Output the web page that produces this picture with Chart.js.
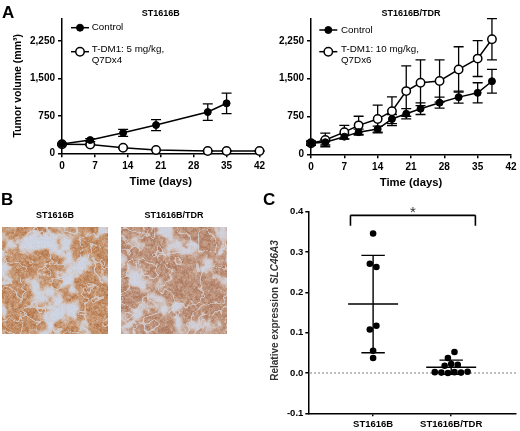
<!DOCTYPE html>
<html>
<head>
<meta charset="utf-8">
<title>ST1616B / ST1616B-TDR</title>
<script src="https://cdn.jsdelivr.net/npm/chart.js@4.4.1/dist/chart.umd.min.js"></script>
<style>
  body { margin: 0; background: #fff; }
  #wrap { position: relative; width: 520px; height: 431px; overflow: hidden; font-family: 'Liberation Sans', Arial, sans-serif; color: #000; }
  #wrap canvas { position: absolute; }
  .letter { position: absolute; font-weight: bold; font-size: 17px; line-height: 17px; }
  .cap { position: absolute; font-weight: bold; font-size: 9px; line-height: 11px; width: 110px; text-align: center; }
</style>
</head>
<body>
<div id="wrap">
  <canvas id="chartA1" width="270" height="195" style="left:0;top:0"></canvas>
  <canvas id="chartA2" width="258" height="195" style="left:262px;top:0"></canvas>
  <canvas id="ihc" width="230" height="110" style="left:0;top:226px"></canvas>
  <canvas id="chartC" width="260" height="236" style="left:260px;top:195px"></canvas>
  <div class="letter" style="left:2px;top:4px">A</div>
  <div class="letter" style="left:1px;top:191px">B</div>
  <div class="letter" style="left:263px;top:191px">C</div>
  <div class="cap" style="left:0;top:210px">ST1616B</div>
  <div class="cap" style="left:119px;top:210px">ST1616B/TDR</div>
</div>
<script>
// ---- data ----
const xTicksA = [0, 7, 14, 21, 28, 35, 42];
const yTicksA = [0, 750, 1500, 2250];

// A left: ST1616B
const daysCtrlB = [0, 6, 13, 20, 31, 35];
const volCtrlB = [185, 265, 410, 565, 825, 1000];
const semCtrlB = [15, 30, 70, 110, 165, 205];
const daysTdmB = [0, 6, 13, 20, 31, 35, 42];
const volTdmB = [180, 175, 112, 66, 45, 45, 45];
const semTdmB = [12, 12, 10, 8, 6, 6, 6];

// A right: ST1616B/TDR
const daysTdr = [0, 3, 7, 10, 14, 17, 20, 23, 27, 31, 35, 38];
const volCtrlTdr = [220, 240, 350, 440, 500, 700, 805, 905, 1025, 1135, 1220, 1450];
const semCtrlTdr = [40, 55, 50, 60, 60, 90, 100, 115, 110, 120, 200, 235];
const volTdmTdr = [220, 285, 440, 575, 700, 855, 1255, 1420, 1455, 1685, 1900, 2285];
const semTdmTdr = [40, 135, 135, 180, 275, 285, 500, 455, 420, 450, 355, 410];

// C: relative expression SLC46A3
const groupsC = ['ST1616B', 'ST1616B/TDR'];
const exprB = [0.346, 0.271, 0.263, 0.108, 0.117, 0.055, 0.037];
const exprTdr = [0.037, 0.052, 0.018, 0.022, 0.020, 0.002, 0.001, 0.000, 0.002, 0.001, 0.003];
const yTicksC = [-0.1, 0, 0.1, 0.2, 0.3, 0.4];

const FONT = "'Liberation Sans', Arial, sans-serif";
Chart.defaults.font.family = FONT;
Chart.defaults.color = '#000';

const pts = (xs, ys) => xs.map((x, i) => ({ x: x, y: ys[i] }));

// error bars (mean +/- SEM) behind the symbols
const errorBars = {
  id: 'errorBars',
  beforeDatasetsDraw(chart) {
    const { ctx, scales: { x, y } } = chart;
    ctx.save();
    ctx.strokeStyle = '#000';
    ctx.lineWidth = 1.3;
    chart.data.datasets.forEach(ds => {
      if (!ds.err) return;
      ds.data.forEach((p, i) => {
        const e = ds.err[i];
        const px = x.getPixelForValue(p.x);
        const y1 = y.getPixelForValue(p.y + e);
        const y2 = y.getPixelForValue(p.y - e);
        ctx.beginPath();
        ctx.moveTo(px, y1); ctx.lineTo(px, y2);
        ctx.moveTo(px - 5, y1); ctx.lineTo(px + 5, y1);
        ctx.moveTo(px - 5, y2); ctx.lineTo(px + 5, y2);
        ctx.stroke();
      });
    });
    ctx.restore();
  }
};

function drawRotated(ctx, parts, x, y, size) {
  ctx.save();
  ctx.translate(x, y);
  ctx.rotate(-Math.PI / 2);
  ctx.textAlign = 'left';
  ctx.textBaseline = 'middle';
  const fonts = parts.map(p => (p.italic ? 'italic ' : '') + 'bold ' + size + 'px ' + FONT);
  let total = 0;
  const w = parts.map((p, i) => {
    ctx.font = fonts[i];
    const m = ctx.measureText(p.text).width;
    total += m;
    return m;
  });
  let pos = -total / 2;
  parts.forEach((p, i) => {
    ctx.font = fonts[i];
    ctx.fillText(p.text, pos, 0);
    pos += w[i];
  });
  ctx.restore();
}

// titles, axis titles and the in-plot legend
const panelText = {
  id: 'panelText',
  afterDraw(chart, args, opts) {
    const { ctx, chartArea: a } = chart;
    const cx = (a.left + a.right) / 2;
    const cy = (a.top + a.bottom) / 2;
    ctx.save();
    ctx.fillStyle = '#000';
    ctx.textAlign = 'center';
    ctx.textBaseline = 'middle';
    if (opts.title) {
      ctx.font = 'bold 9px ' + FONT;
      ctx.fillText(opts.title, cx, a.top - 4.3);
    }
    if (opts.xTitle) {
      ctx.font = 'bold 11.3px ' + FONT;
      ctx.fillText(opts.xTitle, cx, a.bottom + 28.7);
    }
    if (opts.yTitle) drawRotated(ctx, opts.yTitle, opts.yTitleX, cy, opts.yTitleSize);
    (opts.legend || []).forEach((it, i) => {
      const ds = chart.data.datasets[i];
      const mx = a.left + opts.legendDx;
      const my = a.top + it.dy;
      ctx.strokeStyle = '#000';
      ctx.lineWidth = 1.5;
      ctx.beginPath();
      ctx.moveTo(mx - 9, my); ctx.lineTo(mx + 9, my);
      ctx.stroke();
      ctx.beginPath();
      ctx.arc(mx, my, ds.pointRadius, 0, Math.PI * 2);
      ctx.fillStyle = ds.pointBackgroundColor;
      ctx.fill();
      ctx.lineWidth = ds.pointBorderWidth;
      ctx.stroke();
      ctx.fillStyle = '#000';
      ctx.font = '9.8px ' + FONT;
      ctx.textAlign = 'left';
      it.text.forEach((t, k) => ctx.fillText(t, a.left + opts.legendTextDx, my + it.lineDy[k]));
      ctx.textAlign = 'center';
    });
    ctx.restore();
  }
};

function scalesA(yWidth, xHeight) {
  const tickFont = { family: FONT, size: 10, weight: 'bold' };
  return {
    x: {
      type: 'linear', min: 0, max: 42,
      afterBuildTicks: s => { s.ticks = xTicksA.map(v => ({ value: v })); },
      afterFit: s => { s.height = xHeight; },
      grid: { drawOnChartArea: false, color: '#000', lineWidth: 1.5, tickLength: 4 },
      border: { color: '#000', width: 1.5 },
      ticks: { font: tickFont, color: '#000', padding: 3, maxRotation: 0 }
    },
    y: {
      type: 'linear', min: 0, max: 2700,
      afterBuildTicks: s => { s.ticks = yTicksA.map(v => ({ value: v })); },
      afterFit: s => { s.width = yWidth; },
      grid: { drawOnChartArea: false, color: '#000', lineWidth: 1.5, tickLength: 4 },
      border: { color: '#000', width: 1.5 },
      ticks: { font: tickFont, color: '#000', padding: 3, callback: v => v.toLocaleString('en-US') }
    }
  };
}

function ctrlSet(data, err) {
  return {
    data: data, err: err, borderColor: '#000', borderWidth: 1.5, tension: 0,
    pointRadius: 3.5, pointBackgroundColor: '#000', pointBorderColor: '#000', pointBorderWidth: 1,
    clip: false
  };
}
function tdmSet(data, err) {
  return {
    data: data, err: err, borderColor: '#000', borderWidth: 1.5, tension: 0,
    pointRadius: 4.2, pointBackgroundColor: '#fff', pointBorderColor: '#000', pointBorderWidth: 1.5,
    clip: false
  };
}

const baseOpts = { responsive: false, animation: false, events: [] };

new Chart(document.getElementById('chartA1'), {
  type: 'line',
  data: { datasets: [ctrlSet(pts(daysCtrlB, volCtrlB), semCtrlB), tdmSet(pts(daysTdmB, volTdmB), semTdmB)] },
  options: Object.assign({}, baseOpts, {
    layout: { padding: { top: 18.3, right: 10.5, left: 0, bottom: 0 } },
    scales: scalesA(62, 41.7),
    plugins: {
      legend: { display: false }, tooltip: { enabled: false },
      panelText: {
        title: 'ST1616B', xTitle: 'Time (days)',
        yTitle: [{ text: 'Tumor volume (mm³)' }], yTitleX: 18, yTitleSize: 10.5,
        legendDx: 18, legendTextDx: 29.7,
        legend: [
          { text: ['Control'], dy: 9.4, lineDy: [0] },
          { text: ['T-DM1: 5 mg/kg,', 'Q7Dx4'], dy: 33.4, lineDy: [-2.4, 9] }
        ]
      }
    }
  }),
  plugins: [errorBars, panelText]
});

new Chart(document.getElementById('chartA2'), {
  type: 'line',
  data: { datasets: [ctrlSet(pts(daysTdr, volCtrlTdr), semCtrlTdr), tdmSet(pts(daysTdr, volTdmTdr), semTdmTdr)] },
  options: Object.assign({}, baseOpts, {
    layout: { padding: { top: 18.3, right: 9, left: 0, bottom: 0 } },
    scales: scalesA(49, 40.7),
    plugins: {
      legend: { display: false }, tooltip: { enabled: false },
      panelText: {
        title: 'ST1616B/TDR', xTitle: 'Time (days)',
        legendDx: 17.3, legendTextDx: 30,
        legend: [
          { text: ['Control'], dy: 11.7, lineDy: [0] },
          { text: ['T-DM1: 10 mg/kg,', 'Q7Dx6'], dy: 33.4, lineDy: [-2.4, 9] }
        ]
      }
    }
  }),
  plugins: [errorBars, panelText]
});

// ---- panel B: stained sections (procedural texture) ----
function hash(x, y, s) {
  let h = (Math.imul(x, 374761393) + Math.imul(y, 668265263) + Math.imul(s, 1442695041)) | 0;
  h = Math.imul(h ^ (h >>> 13), 1274126177);
  h ^= h >>> 16;
  return (h >>> 0) / 4294967296;
}
function vnoise(x, y, s) {
  const xi = Math.floor(x), yi = Math.floor(y);
  const fx = x - xi, fy = y - yi;
  const u = fx * fx * (3 - 2 * fx), v = fy * fy * (3 - 2 * fy);
  const a = hash(xi, yi, s), b = hash(xi + 1, yi, s), c = hash(xi, yi + 1, s), d = hash(xi + 1, yi + 1, s);
  return a + (b - a) * u + (c - a) * v + (a - b - c + d) * u * v;
}
function fbm(x, y, s) {
  return 0.55 * vnoise(x, y, s) + 0.3 * vnoise(x * 2.1, y * 2.1, s + 7) + 0.15 * vnoise(x * 4.3, y * 4.3, s + 13);
}
function smooth(e0, e1, v) {
  const t = Math.min(1, Math.max(0, (v - e0) / (e1 - e0)));
  return t * t * (3 - 2 * t);
}
function drawTissue(ctx, ox, oy, w, h, seed, pal) {
  const img = ctx.createImageData(w, h);
  for (let j = 0; j < h; j++) {
    for (let i = 0; i < w; i++) {
      const wx = i + 14 * (fbm(i / 28, j / 28, seed + 3) - 0.5);
      const wy = j + 14 * (fbm(i / 28, j / 28, seed + 4) - 0.5);
      const n = fbm(wx / 17, wy / 17, seed);
      const ridge = 1 - Math.abs(fbm(wx / 14, wy / 14, seed + 5) - 0.5) * 2;
      const stained = smooth(pal.cut - 0.2, pal.cut + 0.16, n) * (1 - 0.6 * smooth(0.92, 0.99, ridge));
      const g = fbm(i / 2.5, j / 2.5, seed + 31);
      const s = hash(i, j, seed + 57);
      const inten = Math.min(1, stained * (0.1 + 0.9 * g + 0.3 * s));
      const k = (j * w + i) * 4;
      for (let c = 0; c < 3; c++) {
        const brown = pal.light[c] + (pal.dark[c] - pal.light[c]) * inten;
        const st = pal.stroma[c] - 10 * s;
        img.data[k + c] = st + (brown - st) * smooth(0, 0.8, stained * (0.6 + 0.6 * g));
      }
      img.data[k + 3] = 255;
    }
  }
  ctx.putImageData(img, ox, oy);
}
const ihc = document.getElementById('ihc').getContext('2d');
drawTissue(ihc, 2, 1, 106, 107, 11, { cut: 0.4, stroma: [210, 216, 230], dark: [180, 116, 70], light: [226, 204, 186] });
drawTissue(ihc, 121, 1, 106, 107, 29, { cut: 0.34, stroma: [212, 214, 226], dark: [172, 120, 94], light: [224, 204, 190] });

// ---- panel C ----
const rowTol = 0.016, swarmStep = 0.084;
function swarm(values, center) {
  const idx = values.map((v, i) => i).sort((a, b) => values[b] - values[a]);
  const rows = [];
  idx.forEach(i => {
    const row = rows[rows.length - 1];
    if (row && values[row[0]] - values[i] <= rowTol) row.push(i);
    else rows.push([i]);
  });
  const out = [];
  rows.forEach(row => {
    row.sort((a, b) => a - b);
    row.forEach((i, k) => out.push({ x: center + (k - (row.length - 1) / 2) * swarmStep, y: values[i] }));
  });
  return out;
}
function meanSd(values) {
  const m = values.reduce((s, v) => s + v, 0) / values.length;
  const sd = Math.sqrt(values.reduce((s, v) => s + (v - m) * (v - m), 0) / (values.length - 1));
  return { mean: m, sd: sd };
}

const summaryLines = {
  id: 'summaryLines',
  beforeDatasetsDraw(chart) {
    const { ctx, chartArea: a, scales: { y } } = chart;
    const y0 = y.getPixelForValue(0);
    ctx.save();
    ctx.strokeStyle = '#555';
    ctx.lineWidth = 1.2;
    ctx.setLineDash([1.5, 2.5]);
    ctx.beginPath();
    ctx.moveTo(a.left + 2, y0); ctx.lineTo(a.right, y0);
    ctx.stroke();
    ctx.restore();
  },
  afterDatasetsDraw(chart, args, opts) {
    const { ctx, scales: { x, y } } = chart;
    const seg = (x1, y1, x2, y2) => {
      ctx.moveTo(x.getPixelForValue(x1), y.getPixelForValue(y1));
      ctx.lineTo(x.getPixelForValue(x2), y.getPixelForValue(y2));
    };
    ctx.save();
    ctx.strokeStyle = '#000';
    ctx.lineWidth = 1.4;
    ctx.beginPath();
    opts.groups.forEach((vals, g) => {
      const c = g + 1;
      const { mean, sd } = meanSd(vals);
      seg(c - 0.32, mean, c + 0.32, mean);
      seg(c, mean - sd, c, mean + sd);
      seg(c - 0.15, mean + sd, c + 0.15, mean + sd);
      seg(c - 0.15, mean - sd, c + 0.15, mean - sd);
    });
    ctx.stroke();
    // significance bracket
    ctx.lineWidth = 1.6;
    ctx.beginPath();
    seg(0.71, 0.365, 0.71, 0.391);
    seg(0.71, 0.391, 2.31, 0.391);
    seg(2.31, 0.391, 2.31, 0.365);
    ctx.stroke();
    ctx.fillStyle = '#333';
    ctx.font = '15px ' + FONT;
    ctx.textAlign = 'center';
    ctx.textBaseline = 'alphabetic';
    ctx.fillText('*', x.getPixelForValue(1.51), y.getPixelForValue(0.391) + 2);
    drawRotated(ctx, [{ text: 'Relative expression ' }, { text: 'SLC46A3', italic: true }], 15, (chart.chartArea.top + chart.chartArea.bottom) / 2 - 2, 10);
    ctx.restore();
  }
};

const tickFontC = { family: FONT, size: 9.5, weight: 'bold' };
new Chart(document.getElementById('chartC'), {
  type: 'scatter',
  data: {
    datasets: [exprB, exprTdr].map((vals, g) => ({
      data: swarm(vals, g + 1),
      pointRadius: 3.3, pointBackgroundColor: '#000', pointBorderWidth: 0
    }))
  },
  options: Object.assign({}, baseOpts, {
    layout: { padding: { top: 16.7, right: 0, left: 0, bottom: 0 } },
    scales: {
      x: {
        type: 'linear', min: 0.17, max: 2.83,
        afterBuildTicks: s => { s.ticks = groupsC.map((g, i) => ({ value: i + 1 })); },
        afterFit: s => { s.height = 17.7; },
        grid: { drawOnChartArea: false, color: '#000', lineWidth: 1.5, tickLength: 3 },
        border: { color: '#000', width: 1.5 },
        ticks: { font: tickFontC, color: '#000', padding: 2, maxRotation: 0, callback: v => groupsC[v - 1] }
      },
      y: {
        type: 'linear', min: -0.1, max: 0.4,
        afterBuildTicks: s => { s.ticks = yTicksC.map(v => ({ value: v })); },
        afterFit: s => { s.width = 48.3; },
        grid: { drawOnChartArea: false, color: '#000', lineWidth: 1.5, tickLength: 3 },
        border: { color: '#000', width: 1.5 },
        ticks: { font: tickFontC, color: '#000', padding: 2, callback: v => v.toFixed(1) }
      }
    },
    plugins: {
      legend: { display: false }, tooltip: { enabled: false },
      summaryLines: { groups: [exprB, exprTdr] }
    }
  }),
  plugins: [summaryLines]
});
</script>
</body>
</html>
